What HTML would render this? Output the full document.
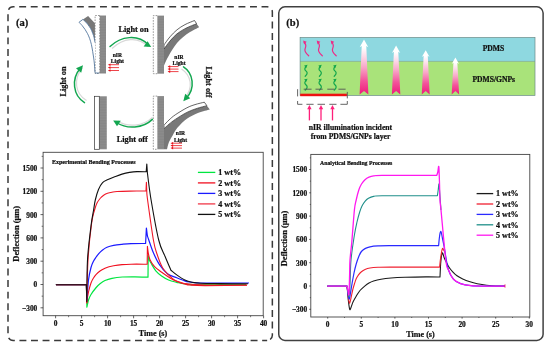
<!DOCTYPE html>
<html lang="en"><head><meta charset="utf-8"><title>Bending processes figure</title>
<style>
html,body{margin:0;padding:0;background:#fff;}
body{width:550px;height:348px;overflow:hidden;}
svg{display:block;}
svg text{stroke:#111;stroke-width:0.22px;}
</style></head><body>
<svg width="550" height="348" viewBox="0 0 550 348" font-family="'Liberation Serif', serif" font-weight="bold" fill="#111">
<defs>
<linearGradient id="pg" x1="0" y1="1" x2="0" y2="0"><stop offset="0" stop-color="#ee1a7a"/><stop offset="0.25" stop-color="#f3529a"/><stop offset="0.5" stop-color="#f8a8c8"/><stop offset="0.7" stop-color="#fcdce9"/><stop offset="0.86" stop-color="#ffffff"/></linearGradient>
<pattern id="hat" width="3" height="1.6" patternUnits="userSpaceOnUse"><rect width="3" height="1.6" fill="#8c8c8c"/><rect width="3" height="0.5" fill="#828282"/></pattern>
</defs>
<rect width="550" height="348" fill="#fff"/>
<path d="M19.20,6.85 H267.15 A5.2,5.2 0 0 1 272.35,12.05 V335.25 A5.2,5.2 0 0 1 267.15,340.45" fill="none" stroke="#3a3a3a" stroke-width="1.5" stroke-dasharray="6.924 4.616"/>
<path d="M19.20,6.85 H13.20 A5.2,5.2 0 0 0 8.00,12.05 V335.25 A5.2,5.2 0 0 0 13.20,340.45 H267.15" fill="none" stroke="#3a3a3a" stroke-width="1.5" stroke-dasharray="6.935 4.623" stroke-dashoffset="6.935"/>
<rect x="278.75" y="6.85" width="264.35" height="333.55" rx="6.2" ry="6.2" fill="none" stroke="#404040" stroke-width="1.5"/>
<text x="16" y="26.3" font-size="10.5">(a)</text>
<text x="286.3" y="26.3" font-size="10.5">(b)</text>
<path d="M82.90,19.40 L88.10,15.90 L94.90,23.30 L94.90,42.50 L94.90,42.50 C94.77,41.68 94.43,39.05 94.10,37.60 C93.77,36.15 93.33,35.03 92.90,33.80 C92.47,32.57 92.07,31.37 91.50,30.20 C90.93,29.03 90.33,28.03 89.50,26.80 C88.67,25.57 87.60,24.03 86.50,22.80 C85.40,21.57 83.50,19.97 82.90,19.40 Z" fill="#787878"/>
<rect x="99.6" y="15.5" width="6.4" height="58.0" fill="url(#hat)"/>
<path d="M99.6,15.5 H95.1 V73.5 H99.6" fill="#fff" stroke="#555" stroke-width="0.6" stroke-dasharray="1.6 1.2"/>
<path d="M79.00,22.30 C79.53,22.85 81.18,24.40 82.20,25.60 C83.22,26.80 84.22,28.17 85.10,29.50 C85.98,30.83 86.75,32.12 87.50,33.60 C88.25,35.08 88.95,36.58 89.60,38.40 C90.25,40.22 90.88,42.30 91.40,44.50 C91.92,46.70 92.32,49.35 92.70,51.60 C93.08,53.85 93.42,55.93 93.70,58.00 C93.98,60.07 94.18,61.57 94.40,64.00 C94.62,66.43 94.90,71.17 95.00,72.60 L95.00,72.60 L95.00,42.50 L94.90,42.50 C94.77,41.68 94.43,39.05 94.10,37.60 C93.77,36.15 93.33,35.03 92.90,33.80 C92.47,32.57 92.07,31.37 91.50,30.20 C90.93,29.03 90.33,28.03 89.50,26.80 C88.67,25.57 87.60,24.03 86.50,22.80 C85.40,21.57 83.50,19.97 82.90,19.40 Z" fill="#fff" stroke="none"/>
<path d="M94.90,42.50 C94.77,41.68 94.43,39.05 94.10,37.60 C93.77,36.15 93.33,35.03 92.90,33.80 C92.47,32.57 92.07,31.37 91.50,30.20 C90.93,29.03 90.33,28.03 89.50,26.80 C88.67,25.57 87.60,24.03 86.50,22.80 C85.40,21.57 83.50,19.97 82.90,19.40 L82.90,19.40 L79.00,22.30 L79.00,22.30 C79.53,22.85 81.18,24.40 82.20,25.60 C83.22,26.80 84.22,28.17 85.10,29.50 C85.98,30.83 86.75,32.12 87.50,33.60 C88.25,35.08 88.95,36.58 89.60,38.40 C90.25,40.22 90.88,42.30 91.40,44.50 C91.92,46.70 92.32,49.35 92.70,51.60 C93.08,53.85 93.42,55.93 93.70,58.00 C93.98,60.07 94.18,61.57 94.40,64.00 C94.62,66.43 94.90,71.17 95.00,72.60 L95.00,72.60 L95.60,73.00 L99.40,73.00" fill="none" stroke="#3d6590" stroke-width="0.8" stroke-linejoin="round"/>
<path d="M99.6,15.5 V73.5" stroke="#666" stroke-width="0.6" stroke-dasharray="1.6 1.2"/>
<path d="M164.00,49.00 C165.00,47.67 167.83,43.53 170.00,41.00 C172.17,38.47 174.33,35.93 177.00,33.80 C179.67,31.67 182.73,29.88 186.00,28.20 C189.27,26.52 194.83,24.45 196.60,23.70 L199.20,27.20 C197.67,28.00 192.72,30.32 190.00,32.00 C187.28,33.68 185.07,35.45 182.90,37.30 C180.73,39.15 178.75,41.05 177.00,43.10 C175.25,45.15 173.80,47.45 172.40,49.60 C171.00,51.75 169.67,54.10 168.60,56.00 C167.53,57.90 166.77,59.42 166.00,61.00 C165.23,62.58 164.33,64.75 164.00,65.50 Z" fill="#787878"/>
<path d="M164.00,44.90 C165.00,43.55 167.83,39.32 170.00,36.80 C172.17,34.28 174.50,31.83 177.00,29.80 C179.50,27.77 182.08,26.15 185.00,24.60 C187.92,23.05 192.92,21.18 194.50,20.50 L196.60,23.70 C194.83,24.45 189.27,26.52 186.00,28.20 C182.73,29.88 179.67,31.67 177.00,33.80 C174.33,35.93 172.17,38.47 170.00,41.00 C167.83,43.53 165.00,47.67 164.00,49.00 Z" fill="#fff" stroke="#222" stroke-width="0.7" stroke-linejoin="round"/>
<rect x="157.2" y="15.6" width="6.8" height="58.1" fill="url(#hat)"/>
<path d="M157.2,15.6 H153.3 V73.7 H157.2" fill="#fff" stroke="#555" stroke-width="0.6" stroke-dasharray="1.6 1.2"/>
<path d="M164.00,128.70 C164.83,127.95 167.12,125.75 169.00,124.20 C170.88,122.65 172.32,121.37 175.30,119.40 C178.28,117.43 183.28,114.23 186.90,112.40 C190.52,110.57 193.67,109.52 197.00,108.40 C200.33,107.28 205.25,106.15 206.90,105.70 L209.80,109.50 C207.92,110.05 202.32,111.25 198.50,112.80 C194.68,114.35 190.38,116.33 186.90,118.80 C183.42,121.27 179.93,124.90 177.60,127.60 C175.27,130.30 174.33,132.60 172.90,135.00 C171.47,137.40 169.98,139.62 169.00,142.00 C168.02,144.38 167.33,148.08 167.00,149.30 L164,149.3 Z" fill="#787878"/>
<path d="M164.00,125.20 C164.83,124.33 167.12,121.73 169.00,120.00 C170.88,118.27 172.32,116.83 175.30,114.80 C178.28,112.77 183.62,109.50 186.90,107.80 C190.18,106.10 192.10,105.53 195.00,104.60 C197.90,103.67 202.75,102.60 204.30,102.20 L206.90,105.70 C205.25,106.15 200.33,107.28 197.00,108.40 C193.67,109.52 190.52,110.57 186.90,112.40 C183.28,114.23 178.28,117.43 175.30,119.40 C172.32,121.37 170.88,122.65 169.00,124.20 C167.12,125.75 164.83,127.95 164.00,128.70 Z" fill="#fff" stroke="#222" stroke-width="0.7" stroke-linejoin="round"/>
<rect x="157.2" y="96.1" width="6.8" height="53.2" fill="url(#hat)"/>
<path d="M157.2,96.1 H153.3 V149.3 H157.2" fill="#fff" stroke="#555" stroke-width="0.6" stroke-dasharray="1.6 1.2"/>
<rect x="99.3" y="96.3" width="7.5" height="53.0" fill="url(#hat)"/>
<rect x="94.6" y="96.3" width="4.7" height="53.0" fill="#fff" stroke="#333" stroke-width="0.7"/>
<text x="117.4" y="56.7" font-size="5.6" text-anchor="middle">nIR</text>
<text x="117.4" y="62.9" font-size="5.6" text-anchor="middle">Light</text>
<path d="M119.0,64.7 H109.4" stroke="#e8141c" stroke-width="0.8" fill="none"/>
<path d="M107.9,64.7 l2.6,-1.3 v2.6 z" fill="#e8141c"/>
<path d="M119.0,67.6 H109.4" stroke="#e8141c" stroke-width="0.8" fill="none"/>
<path d="M107.9,67.6 l2.6,-1.3 v2.6 z" fill="#e8141c"/>
<path d="M119.0,70.5 H109.4" stroke="#e8141c" stroke-width="0.8" fill="none"/>
<path d="M107.9,70.5 l2.6,-1.3 v2.6 z" fill="#e8141c"/>
<text x="179.0" y="58.5" font-size="5.6" text-anchor="middle">nIR</text>
<text x="179.0" y="64.9" font-size="5.6" text-anchor="middle">Light</text>
<path d="M178.5,66.6 H169.1" stroke="#e8141c" stroke-width="0.8" fill="none"/>
<path d="M167.6,66.6 l2.6,-1.3 v2.6 z" fill="#e8141c"/>
<path d="M178.5,69.1 H169.1" stroke="#e8141c" stroke-width="0.8" fill="none"/>
<path d="M167.6,69.1 l2.6,-1.3 v2.6 z" fill="#e8141c"/>
<path d="M178.5,71.6 H169.1" stroke="#e8141c" stroke-width="0.8" fill="none"/>
<path d="M167.6,71.6 l2.6,-1.3 v2.6 z" fill="#e8141c"/>
<text x="180.5" y="135.2" font-size="5.6" text-anchor="middle">nIR</text>
<text x="180.5" y="142.2" font-size="5.6" text-anchor="middle">Light</text>
<path d="M182.0,143.2 H172.0" stroke="#e8141c" stroke-width="0.8" fill="none"/>
<path d="M170.5,143.2 l2.6,-1.3 v2.6 z" fill="#e8141c"/>
<path d="M182.0,145.6 H172.0" stroke="#e8141c" stroke-width="0.8" fill="none"/>
<path d="M170.5,145.6 l2.6,-1.3 v2.6 z" fill="#e8141c"/>
<path d="M182.0,148.1 H172.0" stroke="#e8141c" stroke-width="0.8" fill="none"/>
<path d="M170.5,148.1 l2.6,-1.3 v2.6 z" fill="#e8141c"/>
<path d="M112,48.5 C123,38 138,36 148,46.5" stroke="#d8d8d8" stroke-width="1.2" fill="none"/>
<path d="M110,46.5 C121,36 138,34 148,44.5" stroke="#13a650" stroke-width="1.5" fill="none" stroke-linecap="round"/>
<path d="M151.2,47 L143.6,46.6 L147.6,41.2 Z" fill="#13a650"/>
<path d="M181.5,68.9 C191,75 194,88 184.5,98" stroke="#d8d8d8" stroke-width="1.2" fill="none"/>
<path d="M183.5,66.9 C193,73 196,88 186,98.5" stroke="#13a650" stroke-width="1.5" fill="none" stroke-linecap="round"/>
<path d="M183.3,101.2 L185.2,93.8 L190.2,98.3 Z" fill="#13a650"/>
<path d="M152.4,117.4 C143,126.5 127,127.5 118,121" stroke="#d8d8d8" stroke-width="1.2" fill="none"/>
<path d="M152.4,119.4 C143,128.5 127,129.5 116.5,122.5" stroke="#13a650" stroke-width="1.5" fill="none" stroke-linecap="round"/>
<path d="M113.2,120.5 L120.8,120.8 L117,126.3 Z" fill="#13a650"/>
<path d="M86.5,100.6 C75,93.5 73,79 82.5,68" stroke="#d8d8d8" stroke-width="1.2" fill="none"/>
<path d="M84.5,102.6 C73,95.5 71,79 80.5,68" stroke="#13a650" stroke-width="1.5" fill="none" stroke-linecap="round"/>
<path d="M83,65.2 L81.2,72.7 L76,68.3 Z" fill="#13a650"/>
<text x="133.5" y="31.6" font-size="8.3" text-anchor="middle">Light on</text>
<text x="132.3" y="142.3" font-size="8.3" text-anchor="middle">Light off</text>
<text transform="translate(66.2,81.5) rotate(-90)" font-size="8.3" text-anchor="middle">Light on</text>
<text transform="translate(206.3,82) rotate(90)" font-size="8.3" text-anchor="middle">Light off</text>
<rect x="43.1" y="152.3" width="220.1" height="163.4" fill="#fff" stroke="#444" stroke-width="0.9"/>
<path d="M55.60,315.7 v2.6" stroke="#222" stroke-width="0.7"/>
<text x="55.60" y="325.5" font-size="7.4" text-anchor="middle">0</text>
<path d="M68.60,315.7 v1.5" stroke="#222" stroke-width="0.6"/>
<path d="M81.60,315.7 v2.6" stroke="#222" stroke-width="0.7"/>
<text x="81.60" y="325.5" font-size="7.4" text-anchor="middle">5</text>
<path d="M94.60,315.7 v1.5" stroke="#222" stroke-width="0.6"/>
<path d="M107.60,315.7 v2.6" stroke="#222" stroke-width="0.7"/>
<text x="107.60" y="325.5" font-size="7.4" text-anchor="middle">10</text>
<path d="M120.60,315.7 v1.5" stroke="#222" stroke-width="0.6"/>
<path d="M133.60,315.7 v2.6" stroke="#222" stroke-width="0.7"/>
<text x="133.60" y="325.5" font-size="7.4" text-anchor="middle">15</text>
<path d="M146.60,315.7 v1.5" stroke="#222" stroke-width="0.6"/>
<path d="M159.60,315.7 v2.6" stroke="#222" stroke-width="0.7"/>
<text x="159.60" y="325.5" font-size="7.4" text-anchor="middle">20</text>
<path d="M172.60,315.7 v1.5" stroke="#222" stroke-width="0.6"/>
<path d="M185.60,315.7 v2.6" stroke="#222" stroke-width="0.7"/>
<text x="185.60" y="325.5" font-size="7.4" text-anchor="middle">25</text>
<path d="M198.60,315.7 v1.5" stroke="#222" stroke-width="0.6"/>
<path d="M211.60,315.7 v2.6" stroke="#222" stroke-width="0.7"/>
<text x="211.60" y="325.5" font-size="7.4" text-anchor="middle">30</text>
<path d="M224.60,315.7 v1.5" stroke="#222" stroke-width="0.6"/>
<path d="M237.60,315.7 v2.6" stroke="#222" stroke-width="0.7"/>
<text x="237.60" y="325.5" font-size="7.4" text-anchor="middle">35</text>
<path d="M250.60,315.7 v1.5" stroke="#222" stroke-width="0.6"/>
<path d="M263.60,315.7 v2.6" stroke="#222" stroke-width="0.7"/>
<text x="263.60" y="325.5" font-size="7.4" text-anchor="middle">40</text>
<path d="M43.1,307.80 h-2.6" stroke="#222" stroke-width="0.7"/>
<text x="37.3" y="310.70" font-size="7.4" text-anchor="end">−300</text>
<path d="M43.1,296.15 h-1.5" stroke="#222" stroke-width="0.6"/>
<path d="M43.1,284.50 h-2.6" stroke="#222" stroke-width="0.7"/>
<text x="37.3" y="287.40" font-size="7.4" text-anchor="end">0</text>
<path d="M43.1,272.85 h-1.5" stroke="#222" stroke-width="0.6"/>
<path d="M43.1,261.20 h-2.6" stroke="#222" stroke-width="0.7"/>
<text x="37.3" y="264.10" font-size="7.4" text-anchor="end">300</text>
<path d="M43.1,249.55 h-1.5" stroke="#222" stroke-width="0.6"/>
<path d="M43.1,237.90 h-2.6" stroke="#222" stroke-width="0.7"/>
<text x="37.3" y="240.80" font-size="7.4" text-anchor="end">600</text>
<path d="M43.1,226.25 h-1.5" stroke="#222" stroke-width="0.6"/>
<path d="M43.1,214.60 h-2.6" stroke="#222" stroke-width="0.7"/>
<text x="37.3" y="217.50" font-size="7.4" text-anchor="end">900</text>
<path d="M43.1,202.95 h-1.5" stroke="#222" stroke-width="0.6"/>
<path d="M43.1,191.30 h-2.6" stroke="#222" stroke-width="0.7"/>
<text x="37.3" y="194.20" font-size="7.4" text-anchor="end">1200</text>
<path d="M43.1,179.65 h-1.5" stroke="#222" stroke-width="0.6"/>
<path d="M43.1,168.00 h-2.6" stroke="#222" stroke-width="0.7"/>
<text x="37.3" y="170.90" font-size="7.4" text-anchor="end">1500</text>
<path d="M43.1,156.35 h-1.5" stroke="#222" stroke-width="0.6"/>
<text x="52.0" y="163.9" font-size="6.0">Experimental Bending Processes</text>
<path d="M55.90,284.70 L86.40,284.70 L86.90,307.20 L86.90,307.20 C87.17,306.00 87.82,302.12 88.50,300.00 C89.18,297.88 89.72,296.58 91.00,294.50 C92.28,292.42 94.70,289.28 96.20,287.50 C97.70,285.72 98.53,284.97 100.00,283.80 C101.47,282.63 103.00,281.42 105.00,280.50 C107.00,279.58 109.10,278.88 112.00,278.30 C114.90,277.72 118.57,277.25 122.40,277.00 C126.23,276.75 130.73,276.77 135.00,276.80 C139.27,276.83 145.83,277.13 148.00,277.20 L148.00,277.20 L148.20,255.70 L148.20,255.70 C148.38,256.42 148.82,258.73 149.30,260.00 C149.78,261.27 150.02,261.50 151.10,263.30 C152.18,265.10 154.05,268.68 155.80,270.80 C157.55,272.92 159.47,274.47 161.60,276.00 C163.73,277.53 166.10,278.95 168.60,280.00 C171.10,281.05 173.87,281.63 176.60,282.30 C179.33,282.97 181.10,283.62 185.00,284.00 C188.90,284.38 189.83,284.50 200.00,284.60 C210.17,284.70 238.33,284.60 246.00,284.60" stroke="#00e640" stroke-width="1.20" fill="none" stroke-linejoin="round"/>
<path d="M55.90,284.70 L86.40,284.70 L86.80,302.40 L86.80,302.40 C87.08,300.67 87.80,295.23 88.50,292.00 C89.20,288.77 90.17,285.33 91.00,283.00 C91.83,280.67 92.63,279.43 93.50,278.00 C94.37,276.57 95.12,275.57 96.20,274.40 C97.28,273.23 98.53,272.02 100.00,271.00 C101.47,269.98 103.50,269.00 105.00,268.30 C106.50,267.60 107.57,267.23 109.00,266.80 C110.43,266.37 111.43,266.07 113.60,265.70 C115.77,265.33 119.10,264.85 122.00,264.60 C124.90,264.35 126.80,264.27 131.00,264.20 C135.20,264.13 144.50,264.20 147.20,264.20 L147.20,264.20 L147.40,246.40 L147.40,246.40 C147.55,247.50 147.87,250.77 148.30,253.00 C148.73,255.23 148.95,257.52 150.00,259.80 C151.05,262.08 152.48,264.50 154.60,266.70 C156.72,268.90 159.98,271.05 162.70,273.00 C165.42,274.95 168.28,276.90 170.90,278.40 C173.52,279.90 176.05,281.07 178.40,282.00 C180.75,282.93 183.07,283.50 185.00,284.00 C186.93,284.50 186.67,284.73 190.00,285.00 C193.33,285.27 195.50,285.57 205.00,285.60 C214.50,285.63 240.00,285.27 247.00,285.20" stroke="#f01020" stroke-width="1.10" fill="none" stroke-linejoin="round"/>
<path d="M55.90,284.70 L86.40,284.70 L86.90,300.00 L86.90,300.00 C87.17,296.67 87.82,285.42 88.50,280.00 C89.18,274.58 90.15,270.67 91.00,267.50 C91.85,264.33 92.73,262.75 93.60,261.00 C94.47,259.25 95.30,258.28 96.20,257.00 C97.10,255.72 97.98,254.43 99.00,253.30 C100.02,252.17 100.97,251.20 102.30,250.20 C103.63,249.20 105.12,248.10 107.00,247.30 C108.88,246.50 111.10,245.90 113.60,245.40 C116.10,244.90 119.10,244.60 122.00,244.30 C124.90,244.00 127.07,243.73 131.00,243.60 C134.93,243.47 143.17,243.52 145.60,243.50 L145.60,243.50 L146.40,228.00 L147.40,236.00 L147.40,236.00 C147.63,236.67 147.80,237.20 148.80,240.00 C149.80,242.80 151.65,248.73 153.40,252.80 C155.15,256.87 156.97,260.92 159.30,264.40 C161.63,267.88 164.50,271.47 167.40,273.70 C170.30,275.93 174.18,276.75 176.70,277.80 C179.22,278.85 180.45,279.30 182.50,280.00 C184.55,280.70 186.08,281.50 189.00,282.00 C191.92,282.50 194.83,282.80 200.00,283.00 C205.17,283.20 211.83,283.20 220.00,283.20 C228.17,283.20 244.17,283.03 249.00,283.00" stroke="#1a1aff" stroke-width="1.20" fill="none" stroke-linejoin="round"/>
<path d="M55.90,284.70 L86.40,284.70 L86.80,303.00 L86.80,303.00 C87.00,295.83 87.22,273.17 88.00,260.00 C88.78,246.83 90.43,232.25 91.50,224.00 C92.57,215.75 93.48,214.00 94.40,210.50 C95.32,207.00 95.98,205.08 97.00,203.00 C98.02,200.92 99.33,199.33 100.50,198.00 C101.67,196.67 102.83,195.78 104.00,195.00 C105.17,194.22 106.17,193.77 107.50,193.30 C108.83,192.83 110.42,192.50 112.00,192.20 C113.58,191.90 114.00,191.68 117.00,191.50 C120.00,191.32 125.17,191.18 130.00,191.10 C134.83,191.02 143.33,191.02 146.00,191.00 L146.00,191.00 L146.40,182.30 L146.80,192.00 L146.80,192.00 C146.93,193.33 146.50,192.00 147.60,200.00 C148.70,208.00 151.83,231.00 153.40,240.00 C154.97,249.00 155.45,249.33 157.00,254.00 C158.55,258.67 160.58,264.33 162.70,268.00 C164.82,271.67 167.75,274.00 169.70,276.00 C171.65,278.00 172.52,278.92 174.40,280.00 C176.28,281.08 178.90,281.87 181.00,282.50 C183.10,283.13 183.83,283.42 187.00,283.80 C190.17,284.18 194.50,284.60 200.00,284.80 C205.50,285.00 212.17,284.97 220.00,285.00 C227.83,285.03 242.50,285.00 247.00,285.00" stroke="#f01828" stroke-width="1.10" fill="none" stroke-linejoin="round"/>
<path d="M55.90,284.70 L86.40,284.70 L86.80,301.50 L86.80,301.50 C86.92,294.58 86.80,272.58 87.50,260.00 C88.20,247.42 89.98,234.33 91.00,226.00 C92.02,217.67 92.88,214.33 93.60,210.00 C94.32,205.67 94.48,203.42 95.30,200.00 C96.12,196.58 97.28,192.40 98.50,189.50 C99.72,186.60 101.02,184.25 102.60,182.60 C104.18,180.95 105.88,180.62 108.00,179.60 C110.12,178.58 112.97,177.42 115.30,176.50 C117.63,175.58 119.63,174.78 122.00,174.10 C124.37,173.42 127.00,172.82 129.50,172.40 C132.00,171.98 134.22,171.70 137.00,171.60 C139.78,171.50 144.67,171.77 146.20,171.80 L146.20,171.80 L146.80,164.00 L147.40,173.00 L147.40,173.00 C148.02,177.50 149.22,188.83 151.10,200.00 C152.98,211.17 156.38,230.62 158.70,240.00 C161.02,249.38 162.97,251.27 165.00,256.30 C167.03,261.33 169.92,267.88 170.90,270.20 L170.90,270.20 C171.87,270.98 174.38,273.27 176.70,274.90 C179.02,276.53 182.25,278.77 184.80,280.00 C187.35,281.23 189.30,281.75 192.00,282.30 C194.70,282.85 196.33,283.08 201.00,283.30 C205.67,283.52 212.17,283.52 220.00,283.60 C227.83,283.68 243.33,283.77 248.00,283.80" stroke="#111" stroke-width="1.10" fill="none" stroke-linejoin="round"/>
<path d="M197.9,172.4 H215.3" stroke="#00e640" stroke-width="1.3"/>
<text x="218.3" y="175.1" font-size="8.1">1 wt%</text>
<path d="M197.9,182.9 H215.3" stroke="#f01020" stroke-width="1.3"/>
<text x="218.3" y="185.6" font-size="8.1">2 wt%</text>
<path d="M197.9,193.4 H215.3" stroke="#1a1aff" stroke-width="1.3"/>
<text x="218.3" y="196.1" font-size="8.1">3 wt%</text>
<path d="M197.9,203.9 H215.3" stroke="#f03848" stroke-width="1.3"/>
<text x="218.3" y="206.6" font-size="8.1">4 wt%</text>
<path d="M197.9,214.4 H215.3" stroke="#111" stroke-width="1.3"/>
<text x="218.3" y="217.1" font-size="8.1">5 wt%</text>
<text transform="translate(19.2,233.8) rotate(-90)" font-size="8.4" text-anchor="middle">Deflection (μm)</text>
<text x="153.0" y="336.3" font-size="8.1" text-anchor="middle">Time (s)</text>
<rect x="310.8" y="154.4" width="219.0" height="162.6" fill="#fff" stroke="#444" stroke-width="0.9"/>
<path d="M327.70,317.0 v1.6" stroke="#222" stroke-width="0.7"/>
<text x="327.70" y="326.6" font-size="7.4" text-anchor="middle">0</text>
<path d="M344.50,317.0 v1.0" stroke="#222" stroke-width="0.6"/>
<path d="M361.30,317.0 v1.6" stroke="#222" stroke-width="0.7"/>
<text x="361.30" y="326.6" font-size="7.4" text-anchor="middle">5</text>
<path d="M378.10,317.0 v1.0" stroke="#222" stroke-width="0.6"/>
<path d="M394.90,317.0 v1.6" stroke="#222" stroke-width="0.7"/>
<text x="394.90" y="326.6" font-size="7.4" text-anchor="middle">10</text>
<path d="M411.70,317.0 v1.0" stroke="#222" stroke-width="0.6"/>
<path d="M428.50,317.0 v1.6" stroke="#222" stroke-width="0.7"/>
<text x="428.50" y="326.6" font-size="7.4" text-anchor="middle">15</text>
<path d="M445.30,317.0 v1.0" stroke="#222" stroke-width="0.6"/>
<path d="M462.10,317.0 v1.6" stroke="#222" stroke-width="0.7"/>
<text x="462.10" y="326.6" font-size="7.4" text-anchor="middle">20</text>
<path d="M478.90,317.0 v1.0" stroke="#222" stroke-width="0.6"/>
<path d="M495.70,317.0 v1.6" stroke="#222" stroke-width="0.7"/>
<text x="495.70" y="326.6" font-size="7.4" text-anchor="middle">25</text>
<path d="M512.50,317.0 v1.0" stroke="#222" stroke-width="0.6"/>
<path d="M529.30,317.0 v1.6" stroke="#222" stroke-width="0.7"/>
<text x="529.30" y="326.6" font-size="7.4" text-anchor="middle">30</text>
<path d="M310.8,309.30 h-1.6" stroke="#222" stroke-width="0.7"/>
<text x="307.2" y="312.20" font-size="7.4" text-anchor="end">−300</text>
<path d="M310.8,297.65 h-1.0" stroke="#222" stroke-width="0.6"/>
<path d="M310.8,286.00 h-1.6" stroke="#222" stroke-width="0.7"/>
<text x="307.2" y="288.90" font-size="7.4" text-anchor="end">0</text>
<path d="M310.8,274.35 h-1.0" stroke="#222" stroke-width="0.6"/>
<path d="M310.8,262.70 h-1.6" stroke="#222" stroke-width="0.7"/>
<text x="307.2" y="265.60" font-size="7.4" text-anchor="end">300</text>
<path d="M310.8,251.05 h-1.0" stroke="#222" stroke-width="0.6"/>
<path d="M310.8,239.40 h-1.6" stroke="#222" stroke-width="0.7"/>
<text x="307.2" y="242.30" font-size="7.4" text-anchor="end">600</text>
<path d="M310.8,227.75 h-1.0" stroke="#222" stroke-width="0.6"/>
<path d="M310.8,216.10 h-1.6" stroke="#222" stroke-width="0.7"/>
<text x="307.2" y="219.00" font-size="7.4" text-anchor="end">900</text>
<path d="M310.8,204.45 h-1.0" stroke="#222" stroke-width="0.6"/>
<path d="M310.8,192.80 h-1.6" stroke="#222" stroke-width="0.7"/>
<text x="307.2" y="195.70" font-size="7.4" text-anchor="end">1200</text>
<path d="M310.8,181.15 h-1.0" stroke="#222" stroke-width="0.6"/>
<path d="M310.8,169.50 h-1.6" stroke="#222" stroke-width="0.7"/>
<text x="307.2" y="172.40" font-size="7.4" text-anchor="end">1500</text>
<path d="M310.8,157.85 h-1.0" stroke="#222" stroke-width="0.6"/>
<text x="320.0" y="164.7" font-size="5.8">Analytical Bending Processes</text>
<path d="M327.20,286.20 L347.10,286.20 L347.10,286.20 C347.30,288.50 347.87,296.15 348.30,300.00 C348.73,303.85 349.25,308.05 349.70,309.30 C350.15,310.55 350.45,308.72 351.00,307.50 C351.55,306.28 352.13,303.88 353.00,302.00 C353.87,300.12 355.03,298.12 356.20,296.20 C357.37,294.28 358.53,292.23 360.00,290.50 C361.47,288.77 363.50,287.05 365.00,285.80 C366.50,284.55 367.57,283.80 369.00,283.00 C370.43,282.20 371.60,281.63 373.60,281.00 C375.60,280.37 378.10,279.70 381.00,279.20 C383.90,278.70 387.00,278.32 391.00,278.00 C395.00,277.68 399.17,277.48 405.00,277.30 C410.83,277.12 420.17,276.95 426.00,276.90 C431.83,276.85 437.67,276.98 440.00,277.00 L440.00,277.00 C440.13,274.50 440.42,266.00 440.80,262.00 C441.18,258.00 441.68,253.58 442.30,253.00 C442.92,252.42 443.48,256.30 444.50,258.50 C445.52,260.70 447.07,264.02 448.40,266.20 C449.73,268.38 451.07,270.00 452.50,271.60 C453.93,273.20 455.30,274.57 457.00,275.80 C458.70,277.03 460.53,278.00 462.70,279.00 C464.87,280.00 467.58,281.02 470.00,281.80 C472.42,282.58 474.70,283.17 477.20,283.70 C479.70,284.23 482.58,284.65 485.00,285.00 C487.42,285.35 488.37,285.62 491.70,285.80 C495.03,285.98 502.78,286.05 505.00,286.10" stroke="#1a1a1a" stroke-width="1.10" fill="none" stroke-linejoin="round"/>
<path d="M327.20,286.20 L347.10,286.20 L347.10,286.20 C347.30,288.00 347.90,294.17 348.30,297.00 C348.70,299.83 349.05,303.03 349.50,303.20 C349.95,303.37 350.47,300.20 351.00,298.00 C351.53,295.80 352.13,292.33 352.70,290.00 C353.27,287.67 353.82,285.87 354.40,284.00 C354.98,282.13 355.52,280.33 356.20,278.80 C356.88,277.27 357.63,275.97 358.50,274.80 C359.37,273.63 360.32,272.68 361.40,271.80 C362.48,270.92 363.57,270.13 365.00,269.50 C366.43,268.87 367.83,268.37 370.00,268.00 C372.17,267.63 374.67,267.45 378.00,267.30 C381.33,267.15 379.73,267.13 390.00,267.10 C400.27,267.07 431.33,267.10 439.60,267.10 L439.60,267.10 C439.77,265.58 440.15,261.03 440.60,258.00 C441.05,254.97 441.80,250.23 442.30,248.90 C442.80,247.57 443.15,249.40 443.60,250.00 C444.05,250.60 444.77,252.08 445.00,252.50" stroke="#f02030" stroke-width="1.10" fill="none" stroke-linejoin="round"/>
<path d="M327.20,286.20 L347.10,286.20 L347.10,286.20 C347.28,287.67 347.83,292.87 348.20,295.00 C348.57,297.13 348.92,299.33 349.30,299.00 C349.68,298.67 350.08,295.33 350.50,293.00 C350.92,290.67 351.22,288.33 351.80,285.00 C352.38,281.67 353.27,276.50 354.00,273.00 C354.73,269.50 355.37,266.83 356.20,264.00 C357.03,261.17 358.13,258.08 359.00,256.00 C359.87,253.92 360.40,252.73 361.40,251.50 C362.40,250.27 363.57,249.38 365.00,248.60 C366.43,247.82 367.83,247.25 370.00,246.80 C372.17,246.35 374.67,246.08 378.00,245.90 C381.33,245.72 379.90,245.73 390.00,245.70 C400.10,245.67 430.50,245.70 438.60,245.70 L438.60,245.70 C438.77,244.08 439.22,238.38 439.60,236.00 C439.98,233.62 440.43,231.07 440.90,231.40 C441.37,231.73 441.88,235.57 442.40,238.00 C442.92,240.43 443.57,243.67 444.00,246.00 C444.43,248.33 444.27,248.05 445.00,252.00 C445.73,255.95 446.97,265.15 448.40,269.70 C449.83,274.25 451.57,276.98 453.60,279.30 C455.63,281.62 457.70,282.53 460.60,283.60 C463.50,284.67 466.93,285.28 471.00,285.70 C475.07,286.12 479.33,286.03 485.00,286.10 C490.67,286.17 501.67,286.10 505.00,286.10" stroke="#2a2aff" stroke-width="1.20" fill="none" stroke-linejoin="round"/>
<path d="M327.20,286.20 L347.10,286.20 L347.10,286.20 C347.28,287.33 347.85,291.37 348.20,293.00 C348.55,294.63 348.87,298.17 349.20,296.00 C349.53,293.83 349.90,286.00 350.20,280.00 C350.50,274.00 350.30,267.50 351.00,260.00 C351.70,252.50 353.40,241.33 354.40,235.00 C355.40,228.67 356.12,225.83 357.00,222.00 C357.88,218.17 358.87,214.67 359.70,212.00 C360.53,209.33 361.12,207.78 362.00,206.00 C362.88,204.22 363.92,202.58 365.00,201.30 C366.08,200.02 367.07,199.12 368.50,198.30 C369.93,197.48 371.35,196.82 373.60,196.40 C375.85,195.98 371.37,195.92 382.00,195.80 C392.63,195.68 428.17,195.72 437.40,195.70 L437.40,195.70 C437.53,194.75 437.93,191.95 438.20,190.00 C438.47,188.05 438.73,183.33 439.00,184.00 C439.27,184.67 439.47,189.67 439.80,194.00 C440.13,198.33 440.80,207.33 441.00,210.00" stroke="#1f8f8a" stroke-width="1.10" fill="none" stroke-linejoin="round"/>
<path d="M327.20,286.20 L347.10,286.20 L347.10,286.20 C347.28,287.17 347.88,290.70 348.20,292.00 C348.52,293.30 348.77,296.83 349.00,294.00 C349.23,291.17 349.43,280.67 349.60,275.00 C349.77,269.33 349.63,265.50 350.00,260.00 C350.37,254.50 351.07,250.33 351.80,242.00 C352.53,233.67 353.67,217.00 354.40,210.00 C355.13,203.00 355.47,203.33 356.20,200.00 C356.93,196.67 357.92,192.67 358.80,190.00 C359.68,187.33 360.47,185.72 361.50,184.00 C362.53,182.28 363.75,180.83 365.00,179.70 C366.25,178.57 367.57,177.83 369.00,177.20 C370.43,176.57 371.43,176.20 373.60,175.90 C375.77,175.60 371.47,175.50 382.00,175.40 C392.53,175.30 427.67,175.32 436.80,175.30 L436.80,175.30 C436.97,174.75 437.47,173.45 437.80,172.00 C438.13,170.55 438.53,165.27 438.80,166.60 C439.07,167.93 439.20,174.43 439.40,180.00 C439.60,185.57 439.73,195.00 440.00,200.00 C440.27,205.00 440.03,200.00 441.00,210.00 C441.97,220.00 444.57,250.05 445.80,260.00 C447.03,269.95 447.10,266.48 448.40,269.70 C449.70,272.92 451.57,276.98 453.60,279.30 C455.63,281.62 457.70,282.53 460.60,283.60 C463.50,284.67 466.93,285.28 471.00,285.70 C475.07,286.12 479.33,286.03 485.00,286.10 C490.67,286.17 501.67,286.10 505.00,286.10" stroke="#ff18f0" stroke-width="1.30" fill="none" stroke-linejoin="round"/>
<path d="M476.6,193.6 H493.2" stroke="#1a1a1a" stroke-width="1.3"/>
<text x="496.0" y="196.3" font-size="8.1">1 wt%</text>
<path d="M476.6,204.0 H493.2" stroke="#f02030" stroke-width="1.3"/>
<text x="496.0" y="206.7" font-size="8.1">2 wt%</text>
<path d="M476.6,214.4 H493.2" stroke="#2a2aff" stroke-width="1.3"/>
<text x="496.0" y="217.1" font-size="8.1">3 wt%</text>
<path d="M476.6,224.8 H493.2" stroke="#1f8f8a" stroke-width="1.3"/>
<text x="496.0" y="227.5" font-size="8.1">4 wt%</text>
<path d="M476.6,235.2 H493.2" stroke="#ff18f0" stroke-width="1.3"/>
<text x="496.0" y="237.9" font-size="8.1">5 wt%</text>
<text transform="translate(286.9,238.5) rotate(-90)" font-size="8.4" text-anchor="middle">Deflection (μm)</text>
<text x="420.5" y="336.9" font-size="8.1" text-anchor="middle">Time (s)</text>
<path d="M505,284.3 v3.4" stroke="#f02060" stroke-width="0.8"/>
<rect x="300.1" y="37.5" width="234.9" height="23.9" fill="#8ed8e0"/>
<rect x="300.1" y="61.4" width="234.9" height="34" fill="#a9e37a"/>
<rect x="300.1" y="37.5" width="234.9" height="57.9" fill="none" stroke="#6a8a88" stroke-width="0.7"/>
<path d="M300.1,61.4 H535" stroke="#6a9a88" stroke-width="0.6"/>
<text x="493.5" y="51.2" font-size="7.6" text-anchor="middle">PDMS</text>
<text x="493.7" y="81.8" font-size="7.6" text-anchor="middle">PDMS/GNPs</text>
<path d="M364.00,39.60 L368.30,47.20 L366.30,46.00 L368.40,94.60 L364.00,91.00 L359.60,94.60 L361.70,46.00 L359.70,47.20 Z" fill="url(#pg)"/>
<path d="M396.10,45.60 L400.23,52.90 L398.31,51.70 L400.32,94.60 L396.10,91.00 L391.88,94.60 L393.89,51.70 L391.97,52.90 Z" fill="url(#pg)"/>
<path d="M425.70,50.20 L429.57,57.04 L427.77,55.84 L429.66,94.60 L425.70,91.00 L421.74,94.60 L423.63,55.84 L421.83,57.04 Z" fill="url(#pg)"/>
<path d="M455.40,57.60 L459.05,64.06 L457.35,62.86 L459.14,94.60 L455.40,91.00 L451.66,94.60 L453.44,62.86 L451.75,64.06 Z" fill="url(#pg)"/>
<path d="M304.30,42.50 C306.70,44.70 306.10,46.50 305.10,48.70 S305.70,53.00 308.70,55.80" stroke="#ee2a86" stroke-width="1.2" fill="none" stroke-linecap="round"/>
<path d="M303.10,40.50 l3.6,1.2 l-2.6,2.8 z" fill="#ee2a86"/>
<path d="M317.90,42.50 C320.30,44.70 319.70,46.50 318.70,48.70 S319.30,53.00 322.30,55.80" stroke="#ee2a86" stroke-width="1.2" fill="none" stroke-linecap="round"/>
<path d="M316.70,40.50 l3.6,1.2 l-2.6,2.8 z" fill="#ee2a86"/>
<path d="M331.80,42.50 C334.20,44.70 333.60,46.50 332.60,48.70 S333.20,53.00 336.20,55.80" stroke="#ee2a86" stroke-width="1.2" fill="none" stroke-linecap="round"/>
<path d="M330.60,40.50 l3.6,1.2 l-2.6,2.8 z" fill="#ee2a86"/>
<path d="M306.10,66.70 C304.30,68.30 304.50,69.70 305.90,70.90 S308.10,73.70 305.20,76.30" stroke="#12a64c" stroke-width="1.2" fill="none" stroke-linecap="round"/>
<path d="M307.60,64.80 l-3.4,0.6 l1.8,2.8 z" fill="#12a64c"/>
<path d="M306.10,80.60 C304.30,82.20 304.50,83.60 305.90,84.80 S308.10,87.60 305.20,90.20" stroke="#12a64c" stroke-width="1.2" fill="none" stroke-linecap="round"/>
<path d="M307.60,78.70 l-3.4,0.6 l1.8,2.8 z" fill="#12a64c"/>
<path d="M320.30,66.70 C318.50,68.30 318.70,69.70 320.10,70.90 S322.30,73.70 319.40,76.30" stroke="#12a64c" stroke-width="1.2" fill="none" stroke-linecap="round"/>
<path d="M321.80,64.80 l-3.4,0.6 l1.8,2.8 z" fill="#12a64c"/>
<path d="M320.30,80.60 C318.50,82.20 318.70,83.60 320.10,84.80 S322.30,87.60 319.40,90.20" stroke="#12a64c" stroke-width="1.2" fill="none" stroke-linecap="round"/>
<path d="M321.80,78.70 l-3.4,0.6 l1.8,2.8 z" fill="#12a64c"/>
<path d="M335.10,66.70 C333.30,68.30 333.50,69.70 334.90,70.90 S337.10,73.70 334.20,76.30" stroke="#12a64c" stroke-width="1.2" fill="none" stroke-linecap="round"/>
<path d="M336.60,64.80 l-3.4,0.6 l1.8,2.8 z" fill="#12a64c"/>
<path d="M335.10,80.60 C333.30,82.20 333.50,83.60 334.90,84.80 S337.10,87.60 334.20,90.20" stroke="#12a64c" stroke-width="1.2" fill="none" stroke-linecap="round"/>
<path d="M336.60,78.70 l-3.4,0.6 l1.8,2.8 z" fill="#12a64c"/>
<rect x="300.2" y="93.7" width="46.7" height="2.5" fill="#ee1111"/>
<path d="M297.6,96.4 V89.2 M303.7,89.2 H311.6 M315.5,89.2 H322.7 M327.3,89.2 H334.5 M338.4,89.2 H345.6 M347.3,91.9 V98.4 M347.3,101 V104.3 H340.4 M306.4,104.3 H313.6 M317.5,104.3 H325 M329.3,104.3 H336.5 M297.6,101 V104.3 H302.4" fill="none" stroke="#555" stroke-width="0.9"/>
<path d="M309.4,120.4 V108" stroke="#ff1f7a" stroke-width="1.3"/>
<path d="M309.4,105 l2.2,4.2 h-4.4 z" fill="#ff1f7a"/>
<path d="M321.0,120.4 V108" stroke="#ff1f7a" stroke-width="1.3"/>
<path d="M321.0,105 l2.2,4.2 h-4.4 z" fill="#ff1f7a"/>
<path d="M332.5,120.4 V108" stroke="#ff1f7a" stroke-width="1.3"/>
<path d="M332.5,105 l2.2,4.2 h-4.4 z" fill="#ff1f7a"/>
<text x="350.5" y="129.7" font-size="7.7" text-anchor="middle">nIR illumination incident</text>
<text x="350.5" y="139" font-size="7.7" text-anchor="middle">from PDMS/GNPs layer</text>
</svg>
</body></html>
